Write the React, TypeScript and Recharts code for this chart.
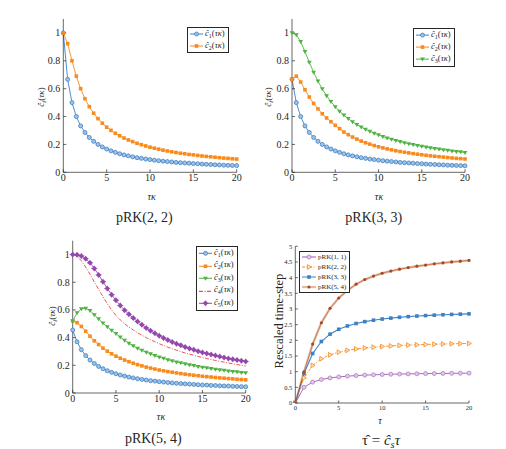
import React from 'react';
import { LineChart, Line, XAxis, YAxis, Legend } from 'recharts';

// values
const tauKappa = [0, 0.5, 1, 1.5, 2, 2.5, 3, 3.5, 4, 4.5, 5, 5.5, 6, 6.5, 7, 7.5, 8, 8.5, 9, 9.5, 10, 10.5, 11, 11.5, 12, 12.5, 13, 13.5, 14, 14.5, 15, 15.5, 16, 16.5, 17, 17.5, 18, 18.5, 19, 19.5, 20];

const rk22c1 = [1, 0.667, 0.5, 0.4, 0.333, 0.286, 0.25, 0.222, 0.2, 0.182, 0.167, 0.154, 0.143, 0.133, 0.125, 0.118, 0.111, 0.105, 0.1, 0.095, 0.091, 0.087, 0.083, 0.08, 0.077, 0.074, 0.071, 0.069, 0.067, 0.065, 0.0625, 0.061, 0.059, 0.057, 0.056, 0.054, 0.053, 0.051, 0.05, 0.049, 0.048];
const rk22c2 = [1, 0.923, 0.8, 0.69, 0.6, 0.528, 0.471, 0.424, 0.385, 0.352, 0.324, 0.301, 0.28, 0.262, 0.246, 0.232, 0.22, 0.208, 0.198, 0.189, 0.18, 0.173, 0.166, 0.159, 0.153, 0.147, 0.142, 0.137, 0.133, 0.128, 0.125, 0.121, 0.117, 0.114, 0.111, 0.108, 0.105, 0.102, 0.1, 0.097, 0.095];

const rk33c1 = [0.667, 0.5, 0.4, 0.333, 0.286, 0.25, 0.222, 0.2, 0.182, 0.167, 0.154, 0.143, 0.133, 0.125, 0.118, 0.111, 0.105, 0.1, 0.095, 0.091, 0.087, 0.083, 0.08, 0.077, 0.074, 0.071, 0.069, 0.067, 0.065, 0.0625, 0.061, 0.059, 0.057, 0.056, 0.054, 0.053, 0.051, 0.05, 0.049, 0.048, 0.0465];
const rk33c2 = [0.667, 0.69, 0.648, 0.592, 0.54, 0.494, 0.455, 0.42, 0.39, 0.363, 0.337, 0.313, 0.289, 0.27, 0.253, 0.238, 0.224, 0.212, 0.202, 0.192, 0.183, 0.175, 0.168, 0.161, 0.155, 0.149, 0.144, 0.139, 0.134, 0.13, 0.126, 0.122, 0.118, 0.115, 0.112, 0.109, 0.106, 0.103, 0.1, 0.098, 0.0956];
const rk33c3 = [1, 0.987, 0.938, 0.866, 0.789, 0.718, 0.654, 0.598, 0.549, 0.507, 0.47, 0.438, 0.41, 0.385, 0.362, 0.342, 0.325, 0.308, 0.294, 0.28, 0.268, 0.257, 0.246, 0.237, 0.228, 0.22, 0.212, 0.205, 0.198, 0.192, 0.186, 0.18, 0.175, 0.17, 0.166, 0.161, 0.157, 0.153, 0.149, 0.146, 0.142];

const rk54c1 = [0.455, 0.37, 0.313, 0.27, 0.238, 0.213, 0.192, 0.175, 0.161, 0.149, 0.139, 0.13, 0.122, 0.115, 0.109, 0.103, 0.098, 0.094, 0.089, 0.086, 0.082, 0.079, 0.076, 0.073, 0.07, 0.068, 0.066, 0.064, 0.062, 0.06, 0.058, 0.057, 0.055, 0.054, 0.052, 0.051, 0.05, 0.048, 0.047, 0.046, 0.045];
const rk54c2 = [0.521, 0.508, 0.481, 0.446, 0.41, 0.377, 0.35, 0.324, 0.302, 0.283, 0.266, 0.251, 0.238, 0.226, 0.215, 0.205, 0.196, 0.187, 0.18, 0.173, 0.166, 0.16, 0.155, 0.15, 0.145, 0.14, 0.136, 0.132, 0.128, 0.125, 0.121, 0.118, 0.115, 0.112, 0.109, 0.107, 0.104, 0.102, 0.099, 0.097, 0.095];
const rk54c3 = [0.52, 0.578, 0.608, 0.612, 0.595, 0.565, 0.535, 0.505, 0.478, 0.452, 0.429, 0.403, 0.38, 0.359, 0.34, 0.323, 0.308, 0.294, 0.282, 0.27, 0.259, 0.25, 0.24, 0.232, 0.224, 0.217, 0.21, 0.203, 0.197, 0.191, 0.186, 0.181, 0.176, 0.171, 0.167, 0.163, 0.159, 0.155, 0.152, 0.148, 0.145];
const rk54c4 = [1, 0.99, 0.955, 0.91, 0.858, 0.803, 0.748, 0.695, 0.645, 0.6, 0.56, 0.528, 0.5, 0.476, 0.455, 0.435, 0.417, 0.4, 0.385, 0.37, 0.356, 0.343, 0.331, 0.32, 0.309, 0.299, 0.289, 0.28, 0.272, 0.264, 0.256, 0.249, 0.242, 0.235, 0.229, 0.223, 0.217, 0.211, 0.205, 0.2, 0.194];
const rk54c5 = [1, 0.998, 0.99, 0.97, 0.94, 0.9, 0.853, 0.804, 0.755, 0.71, 0.67, 0.632, 0.598, 0.568, 0.541, 0.516, 0.493, 0.47, 0.45, 0.431, 0.414, 0.398, 0.383, 0.369, 0.356, 0.344, 0.332, 0.322, 0.312, 0.302, 0.293, 0.285, 0.278, 0.27, 0.263, 0.256, 0.25, 0.244, 0.238, 0.233, 0.228];

const tau = [0, 1, 2, 3, 4, 5, 6, 7, 8, 9, 10, 11, 12, 13, 14, 15, 16, 17, 18, 19, 20];
const rescaled11 = [0, 0.5, 0.667, 0.75, 0.8, 0.833, 0.857, 0.875, 0.889, 0.9, 0.909, 0.917, 0.923, 0.929, 0.933, 0.938, 0.941, 0.944, 0.947, 0.95, 0.952];
const rescaled22 = [0, 0.8, 1.2, 1.412, 1.538, 1.622, 1.68, 1.723, 1.756, 1.782, 1.803, 1.821, 1.835, 1.848, 1.858, 1.868, 1.876, 1.883, 1.89, 1.895, 1.9];
const rescaled33 = [0, 0.938, 1.579, 1.962, 2.197, 2.352, 2.459, 2.537, 2.596, 2.642, 2.679, 2.709, 2.735, 2.756, 2.774, 2.789, 2.803, 2.815, 2.826, 2.835, 2.844];
const rescaled54 = [0, 0.99, 1.88, 2.56, 3.02, 3.35, 3.59, 3.79, 3.94, 4.05, 4.14, 4.21, 4.27, 4.32, 4.365, 4.4, 4.44, 4.47, 4.5, 4.525, 4.55];

const xTicks = [0, 5, 10, 15, 20];
const cTicks = [0, 0.2, 0.4, 0.6, 0.8, 1];
const rTicks = [0, 0.5, 1, 1.5, 2, 2.5, 3, 3.5, 4, 4.5, 5];

const SERIF = '"Liberation Serif", "Times New Roman", Times, "DejaVu Serif", serif';
const INK = '#262626';
const BLUE = '#3d80c3';
const ORANGE = '#f98a1c';
const GREEN = '#4fb342';
const RED = '#e82a2a';
const PURPLE = '#9448ad';
const BROWN = '#a9491c';

type Shape = 'circle' | 'square' | 'triDown' | 'diamond' | 'triRight' | 'ring' | 'dot' | 'none';

function Marker({ shape, cx, cy, color }: { shape: Shape; cx: number; cy: number; color: string }) {
  if (shape === 'circle')
    return <circle cx={cx} cy={cy} r={2} fill="#9fc3e6" stroke={color} strokeWidth={0.8} />;
  if (shape === 'ring')
    return <circle cx={cx} cy={cy} r={2} fill="#e2c8ea" stroke="#b27cc4" strokeWidth={0.8} />;
  if (shape === 'dot') return <circle cx={cx} cy={cy} r={1.6} fill={color} />;
  if (shape === 'square') return <rect x={cx - 1.8} y={cy - 1.8} width={3.6} height={3.6} fill={color} />;
  if (shape === 'triDown')
    return <polygon points={`${cx - 2.4},${cy - 1.6} ${cx + 2.4},${cy - 1.6} ${cx},${cy + 2.4}`} fill={color} />;
  if (shape === 'triRight')
    return (
      <polygon
        points={`${cx - 1.6},${cy - 2.4} ${cx + 2.4},${cy} ${cx - 1.6},${cy + 2.4}`}
        fill="#fde1c4"
        stroke={color}
        strokeWidth={0.8}
      />
    );
  if (shape === 'diamond')
    return (
      <g>
        <polygon points={`${cx},${cy - 3} ${cx + 2.6},${cy} ${cx},${cy + 3} ${cx - 2.6},${cy}`} fill={color} />
        <line x1={cx - 3} x2={cx + 3} y1={cy} y2={cy} stroke={color} strokeWidth={0.8} />
      </g>
    );
  return null;
}

const dotOf = (shape: Shape, color: string) => (p: any) => {
  if (p.cx == null || p.cy == null) return <g key={`d${p.index}`} />;
  return (
    <g key={`d${p.index}`}>
      <Marker shape={shape} cx={p.cx} cy={p.cy} color={color} />
    </g>
  );
};

type Series = {
  key: string;
  color: string;
  shape: Shape;
  dash?: string;
  width?: number;
  halo?: string;
  label: React.ReactNode;
};

function chat(i: string) {
  return (
    <>
      <i>ĉ</i>
      <span style={{ fontSize: '72%', verticalAlign: '-0.3em' }}>{i}</span>(<i>τκ</i>)
    </>
  );
}

function LegendBox({ items, fontSize, rowH, sampleW }: { items: Series[]; fontSize: number; rowH: number; sampleW: number }) {
  return (
    <div
      style={{
        background: '#fff',
        border: `0.8px solid ${INK}`,
        padding: '0 3px 0 1px',
        fontFamily: SERIF,
        fontSize,
        lineHeight: `${rowH}px`,
        color: INK,
      }}
    >
      {items.map((it) => (
        <div key={it.key} style={{ display: 'flex', alignItems: 'center', whiteSpace: 'nowrap', height: rowH }}>
          <svg width={sampleW} height={rowH} style={{ display: 'block' }}>
            {it.halo && (
              <line x1={1} x2={sampleW - 1} y1={rowH / 2} y2={rowH / 2} stroke={it.halo} strokeWidth={2.2} />
            )}
            <line
              x1={1}
              x2={sampleW - 1}
              y1={rowH / 2}
              y2={rowH / 2}
              stroke={it.halo ? it.halo : it.color}
              strokeWidth={1}
              strokeDasharray={it.dash}
            />
            <Marker shape={it.shape} cx={sampleW / 2} cy={rowH / 2} color={it.color} />
          </svg>
          <span style={{ marginLeft: 1 }}>{it.label}</span>
        </div>
      ))}
    </div>
  );
}

type Frame = { left: number; top: number; width: number; height: number };

function Panel(props: {
  box: Frame; // chart position on the page
  frame: Frame; // plot area inside the chart
  xs: number[];
  cols: Record<string, number[]>;
  series: Series[];
  yMax: number;
  yTicks: number[];
  tickFont: number;
  legendAt: { left: number; top: number };
  legendFont: number;
  rowH: number;
  sampleW: number;
}) {
  const { box, frame, xs, cols, series, yMax, yTicks, tickFont } = props;
  const data = xs.map((x, i) => {
    const row: Record<string, number> = { x };
    Object.keys(cols).forEach((k) => (row[k] = cols[k][i]));
    return row;
  });
  const yAxisW = 30;
  const xAxisH = 20;
  const margin = {
    top: frame.top,
    left: frame.left - yAxisW,
    right: box.width - frame.left - frame.width,
    bottom: box.height - frame.top - frame.height - xAxisH,
  };
  const tick = { fill: INK, fontSize: tickFont, fontFamily: SERIF };
  const tl = tickFont > 8 ? 3 : 2.5;
  return (
    <div style={{ position: 'absolute', left: box.left, top: box.top }}>
      <LineChart width={box.width} height={box.height} data={data} margin={margin}>
        <XAxis
          dataKey="x"
          type="number"
          domain={[0, 20]}
          ticks={xTicks}
          height={xAxisH}
          tick={tick}
          tickSize={-tl}
          tickMargin={tl + 2}
          stroke={INK}
          strokeWidth={0.7}
        />
        <XAxis
          xAxisId="top"
          dataKey="x"
          orientation="top"
          type="number"
          domain={[0, 20]}
          ticks={xTicks}
          height={0}
          tick={false}
          tickSize={-tl}
          stroke={INK}
          strokeWidth={0.7}
        />
        <YAxis
          type="number"
          domain={[0, yMax]}
          ticks={yTicks}
          width={yAxisW}
          tick={tick}
          tickSize={-tl}
          tickMargin={tl + 3}
          tickFormatter={(v: number) => String(v)}
          stroke={INK}
          strokeWidth={0.7}
          allowDataOverflow
        />
        <YAxis
          yAxisId="right"
          orientation="right"
          type="number"
          domain={[0, yMax]}
          ticks={yTicks}
          width={0}
          tick={false}
          tickSize={-tl}
          stroke={INK}
          strokeWidth={0.7}
        />
        {series
          .filter((s) => s.halo)
          .map((s) => (
            <Line
              key={`${s.key}-halo`}
              dataKey={s.key}
              stroke={s.halo}
              strokeWidth={2.4}
              dot={false}
              type="linear"
              isAnimationActive={false}
              legendType="none"
            />
          ))}
        {series.map((s) => (
          <Line
            key={s.key}
            dataKey={s.key}
            stroke={s.color}
            strokeWidth={s.width ?? 0.9}
            strokeDasharray={s.dash}
            dot={s.shape === 'none' ? false : dotOf(s.shape, s.color)}
            type="linear"
            isAnimationActive={false}
          />
        ))}
        <Legend
          layout="vertical"
          align="center"
          verticalAlign="middle"
          wrapperStyle={{ left: props.legendAt.left, top: props.legendAt.top, width: 'auto', height: 'auto' }}
          content={() => (
            <LegendBox items={series} fontSize={props.legendFont} rowH={props.rowH} sampleW={props.sampleW} />
          )}
        />
      </LineChart>
    </div>
  );
}

function Txt({ x, y, size, rotate, children }: { x: number; y: number; size: number; rotate?: number; children: React.ReactNode }) {
  return (
    <div
      style={{
        position: 'absolute',
        left: x,
        top: y,
        transform: `translate(-50%, -50%) rotate(${rotate ?? 0}deg)`,
        fontFamily: SERIF,
        fontSize: size,
        color: INK,
        whiteSpace: 'nowrap',
        lineHeight: 1,
      }}
    >
      {children}
    </div>
  );
}

const yLab = (
  <>
    <i>ĉ</i>
    <span style={{ fontSize: '72%', verticalAlign: '-0.3em' }}>
      <i>i</i>
    </span>
    (<i>τκ</i>)
  </>
);

export default function App() {
  const s22: Series[] = [
    { key: 'c1', color: BLUE, shape: 'circle', label: chat('1') },
    { key: 'c2', color: ORANGE, shape: 'square', label: chat('2') },
  ];
  const s33: Series[] = [
    { key: 'c1', color: BLUE, shape: 'circle', label: chat('1') },
    { key: 'c2', color: ORANGE, shape: 'square', label: chat('2') },
    { key: 'c3', color: GREEN, shape: 'triDown', label: chat('3') },
  ];
  const s54: Series[] = [
    { key: 'c1', color: BLUE, shape: 'circle', label: chat('1') },
    { key: 'c2', color: ORANGE, shape: 'square', label: chat('2') },
    { key: 'c3', color: GREEN, shape: 'triDown', label: chat('3') },
    { key: 'c4', color: RED, shape: 'none', dash: '4 1.5 1 1.5', width: 0.8, label: chat('4') },
    { key: 'c5', color: PURPLE, shape: 'diamond', label: chat('5') },
  ];
  const sRes: Series[] = [
    { key: 'r11', color: '#9b59b6', shape: 'ring', label: 'pRK(1, 1)' },
    { key: 'r22', color: ORANGE, shape: 'triRight', dash: '3 1.5 1 1.5', label: 'pRK(2, 2)' },
    { key: 'r33', color: BLUE, shape: 'square', width: 1.1, label: 'pRK(3, 3)' },
    { key: 'r54', color: BROWN, shape: 'dot', halo: '#e3bba6', width: 0.5, label: 'pRK(5, 4)' },
  ];

  return (
    <div style={{ position: 'absolute', left: 0, top: 0, width: 506, height: 449, background: '#fff' }}>
      <Panel
        box={{ left: 0, top: 0, width: 253, height: 225 }}
        frame={{ left: 63.3, top: 19, width: 173.4, height: 153.3 }}
        xs={tauKappa}
        cols={{ c1: rk22c1, c2: rk22c2 }}
        series={s22}
        yMax={1.1}
        yTicks={cTicks}
        tickFont={10}
        legendAt={{ left: 187, top: 27 }}
        legendFont={8.5}
        rowH={12}
        sampleW={15}
      />
      <Panel
        box={{ left: 253, top: 0, width: 253, height: 225 }}
        frame={{ left: 39, top: 19, width: 173, height: 153.3 }}
        xs={tauKappa}
        cols={{ c1: rk33c1, c2: rk33c2, c3: rk33c3 }}
        series={s33}
        yMax={1.1}
        yTicks={cTicks}
        tickFont={10}
        legendAt={{ left: 160, top: 28 }}
        legendFont={8.5}
        rowH={12.2}
        sampleW={15}
      />
      <Panel
        box={{ left: 0, top: 225, width: 253, height: 224 }}
        frame={{ left: 72.7, top: 15.7, width: 173, height: 152.3 }}
        xs={tauKappa}
        cols={{ c1: rk54c1, c2: rk54c2, c3: rk54c3, c4: rk54c4, c5: rk54c5 }}
        series={s54}
        yMax={1.1}
        yTicks={cTicks}
        tickFont={10}
        legendAt={{ left: 196, top: 21 }}
        legendFont={8.5}
        rowH={12.6}
        sampleW={15}
      />
      <Panel
        box={{ left: 253, top: 225, width: 253, height: 224 }}
        frame={{ left: 42.3, top: 21.3, width: 173.7, height: 156.7 }}
        xs={tau}
        cols={{ r11: rescaled11, r22: rescaled22, r33: rescaled33, r54: rescaled54 }}
        series={sRes}
        yMax={5}
        yTicks={rTicks}
        tickFont={6.5}
        legendAt={{ left: 46, top: 26 }}
        legendFont={7}
        rowH={10}
        sampleW={16}
      />

      <Txt x={41.7} y={96.7} size={9} rotate={-90}>{yLab}</Txt>
      <Txt x={151.7} y={197.3} size={10}><i>τκ</i></Txt>
      <Txt x={144.3} y={218.3} size={14}>pRK(2, 2)</Txt>

      <Txt x={269} y={96.7} size={9} rotate={-90}>{yLab}</Txt>
      <Txt x={379} y={197.3} size={10}><i>τκ</i></Txt>
      <Txt x={373.7} y={218.3} size={14}>pRK(3, 3)</Txt>

      <Txt x={53.3} y={315.7} size={9} rotate={-90}>{yLab}</Txt>
      <Txt x={161} y={417.3} size={10}><i>τκ</i></Txt>
      <Txt x={153.3} y={439} size={14}>pRK(5, 4)</Txt>

      <Txt x={279} y={321} size={12.5} rotate={-90}>Rescaled time-step</Txt>
      <Txt x={380} y={420.7} size={10}><i>τ</i></Txt>
      <Txt x={381} y={442} size={15}>
        {'\u03C4\u0302'} = <i>ĉ</i>
        <span style={{ fontSize: '70%', verticalAlign: '-0.3em' }}>
          <i>s</i>
        </span>
        <i>τ</i>
      </Txt>
    </div>
  );
}
